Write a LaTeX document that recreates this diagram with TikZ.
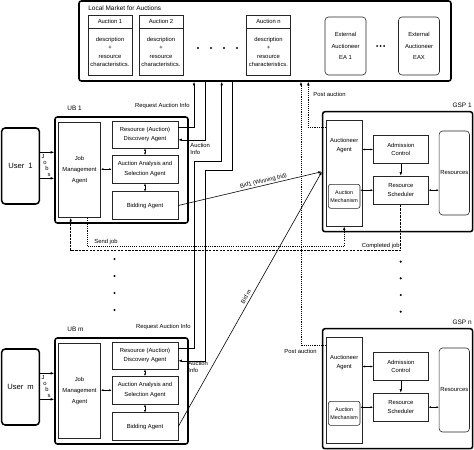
\documentclass[tikz,border=0pt]{standalone}
\usepackage{fontspec}
\setmainfont{Liberation Sans}
\usetikzlibrary{arrows.meta,positioning}
\begin{document}
\begin{tikzpicture}[x=0.3mm, y=-0.3mm,
  txt/.style={font=\fontsize{5}{8.5}\selectfont, inner sep=1pt},
  agent/.style={rectangle, draw=black!85, line width=0.5pt, fill=white, align=center, font=\fontsize{5}{8.5}\selectfont, inner sep=1pt},
  roundbox/.style={agent, rounded corners=3pt},
  outerbox/.style={rectangle, rounded corners=2pt, draw, line width=1.3pt},
  arr/.style={-{Latex[length=3pt,width=2.2pt]}, line width=0.5pt},
  twoway/.style={{Latex[length=2pt,width=1.8pt]}-{Latex[length=2pt,width=1.8pt]}, line width=0.5pt},
  postline/.style={arr, dash pattern=on 0.8pt off 0.8pt},
  sendline/.style={arr, dash pattern=on 0.9pt off 0.9pt, line width=0.7pt},
  doneline/.style={arr, dash pattern=on 2pt off 1pt, line width=0.7pt}
]
  \useasboundingbox (0,0) rectangle (474,450);

  % local market
  \node[outerbox, minimum width=111.6mm, minimum height=24mm] (market) at (265,41) {};
  \node[txt, anchor=west, font=\fontsize{5.5}{6}\selectfont] (mtitle) at (87,8.5) {Local Market for Auctions};
  \foreach \x/\i/\t in {110/1/Auction 1, 161/2/Auction 2, 268.5/n/Auction n} {
    \node[agent, minimum width=13.2mm, minimum height=3.9mm] (ahead\i) at (\x,21.5) {\t};
    \node[agent, minimum width=13.2mm, minimum height=14.1mm, below=0pt of ahead\i, font=\fontsize{5}{7.2}\selectfont] (abody\i) {description\\+\\resource\\characteristics.};
  }
  \foreach \x in {198,211,224,237} \fill (\x,48) circle (0.35mm);
  \node[roundbox, minimum width=12.3mm, minimum height=17.4mm, font=\fontsize{5}{10}\selectfont] (ea1) at (345.5,46) {External\\Auctioneer\\EA 1};
  \foreach \x in {377,380.5,384} \fill (\x,46) circle (0.3mm);
  \node[roundbox, minimum width=12.3mm, minimum height=17.4mm, font=\fontsize{5}{10}\selectfont] (eax) at (419,46) {External\\Auctioneer\\EAX};

  % user brokers
  \foreach \u/\dy in {1/0, m/221} {
    \node[outerbox, minimum width=39.9mm, minimum height=31.8mm] (ub\u) at (121.5,170+\dy) {};
    \node[txt, anchor=west, font=\fontsize{5.5}{6}\selectfont] (ublabel\u) at (66,108+\dy) {UB \u};
    \node[agent, minimum width=12.7mm, minimum height=28.5mm, font=\fontsize{5}{9}\selectfont] (job\u) at (79.5,170+\dy) {Job\\Management\\Agent};
    \node[agent, minimum width=19.8mm, minimum height=8.2mm] (disc\u) at (145,134.5+\dy) {Resource (Auction)\\Discovery Agent};
    \node[agent, minimum width=19.8mm, minimum height=8.4mm] (anal\u) at (145,169.2+\dy) {Auction Analysis and\\Selection Agent};
    \node[agent, minimum width=19.8mm, minimum height=8.3mm] (bid\u) at (145,205.5+\dy) {Bidding Agent};
    \node[outerbox, rounded corners=3pt, minimum width=11.3mm, minimum height=22.8mm, font=\fontsize{6.5}{7}\selectfont] (user\u) at (20.5,166+\dy) {User\enspace\u};
    \draw[twoway] (job\u.east |- anal\u) -- (anal\u.west);
    \draw[twoway] (disc\u.south) -- (anal\u.north);
    \draw[twoway] (anal\u.south) -- (bid\u.north);
    \draw[arr] ([yshift=4.1mm]user\u.east) -- ([yshift=4.1mm]user\u.east -| ub\u.west);
    \draw[arr] ([yshift=-3.7mm]user\u.east) -- ([yshift=-3.7mm]user\u.east -| ub\u.west);
    \foreach \c [count=\k] in {J,o,b,s}
      \node[txt] (jobs\u\k) at (41+2*\k,150+6.3*\k+\dy) {\c};
  }

  % grid service providers
  \foreach \g/\dy in {1/0, n/217} {
    \node[outerbox, minimum width=45mm, minimum height=36mm] (gsp\g) at (397.6,171.7+\dy) {};
    \node[txt, anchor=east, font=\fontsize{5.5}{6}\selectfont] (gsplabel\g) at (473,105.5+\dy) {GSP \g};
    \node[agent, minimum width=10.9mm, minimum height=31.6mm] (auct\g) at (344.2,173.4+\dy) {};
    \node[txt, align=center] (aucttext\g) at (344.2,145.5+\dy) {Auctioneer\\Agent};
    \node[roundbox, rounded corners=2pt, minimum width=9.5mm, minimum height=7.2mm, font=\fontsize{4.6}{7}\selectfont] (mech\g) at (344.2,196.3+\dy) {Auction\\Mechanism};
    \node[agent, minimum width=16.5mm, minimum height=8.3mm, font=\fontsize{5}{7.5}\selectfont] (adm\g) at (400.8,149.5+\dy) {Admission\\Control};
    \node[agent, minimum width=16.5mm, minimum height=8.5mm, font=\fontsize{5}{7.5}\selectfont] (sched\g) at (400.8,190.2+\dy) {Resource\\Scheduler};
    \node[roundbox, minimum width=9mm, minimum height=25.2mm] (res\g) at (454.3,173+\dy) {Resources};
    \draw[twoway] (auct\g.east |- adm\g) -- (adm\g.west);
    \draw[arr] (adm\g.south) -- (sched\g.north);
    \draw[twoway] (mech\g.east |- sched\g) -- (sched\g.west);
    \draw[twoway] (sched\g.east) -- (res\g.west |- sched\g);
  }

  % auction info requests
  \coordinate (req1x) at (194,0);
  \coordinate (info1x) at (205.7,0);
  \coordinate (reqmx) at (221.7,0);
  \coordinate (infomx) at (232.7,0);
  \coordinate (postnx) at (301,0);
  \coordinate (post1x) at (308.3,0);
  \coordinate (reqmbend) at (194,161);
  \coordinate (infombend) at (205.7,170);
  \draw[arr] ([yshift=2.1mm]disc1.east) -| (market.south -| req1x);
  \draw[arr] (market.south -| info1x) |- ([yshift=-1.6mm]disc1.east);
  \draw[arr] ([yshift=2.1mm]discm.east) -| (reqmbend) -| (market.south -| reqmx);
  \draw[arr] (market.south -| infomx) |- (infombend) |- ([yshift=-1.6mm]discm.east);
  \node[txt, anchor=east] (reqlabel1) at (191,106) {Request Auction Info};
  \node[txt, anchor=north west, align=left, font=\fontsize{5}{6}\selectfont] (infolabel1) at (189,142) {Auction\\Info};
  \node[txt, anchor=east] (reqlabelm) at (192,327) {Request Auction Info};
  \node[txt, anchor=north west, align=left, font=\fontsize{5}{6}\selectfont] (infolabelm) at (187,360) {Auction\\Info};

  % posting auctions
  \draw[postline] ([yshift=-2mm]auct1.north west) -| (market.south -| post1x);
  \draw[postline] ([yshift=-2.4mm]auctn.north west) -| (market.south -| postnx);
  \node[txt, anchor=west] (postlabel1) at (312,94) {Post auction};
  \node[txt, anchor=west] (postlabeln) at (283,351) {Post auction};

  % bids
  \draw[arr] (bid1.east) -- (gsp1.west) node[txt, pos=0.6, above, sloped] (bidlabel1) {Bid1 (Winning bid)};
  \draw[arr] (bidm.east) -- (gsp1.west) node[txt, pos=0.5, above=1pt, sloped] (bidlabelm) {Bid m};

  % jobs
  \coordinate (sendjob) at (87.3,246.7);
  \coordinate (donejob) at (70.7,250.7);
  \draw[sendline] (sendjob |- job1.south) -- (sendjob) -| (auct1.south);
  \draw[doneline] (sched1.south) |- (donejob) -- (donejob |- job1.south);
  \node[txt, anchor=south west] (sendlabel) at (93,246) {Send job};
  \node[txt, anchor=south east] (donelabel) at (401,250) {Completed job};

  \foreach \y in {259,276,293,310} \fill (114.5,\y) circle (0.35mm);
  \foreach \y in {261.7,278.3,295,311.7} \fill (400.7,\y) circle (0.35mm);
\end{tikzpicture}
\end{document}
